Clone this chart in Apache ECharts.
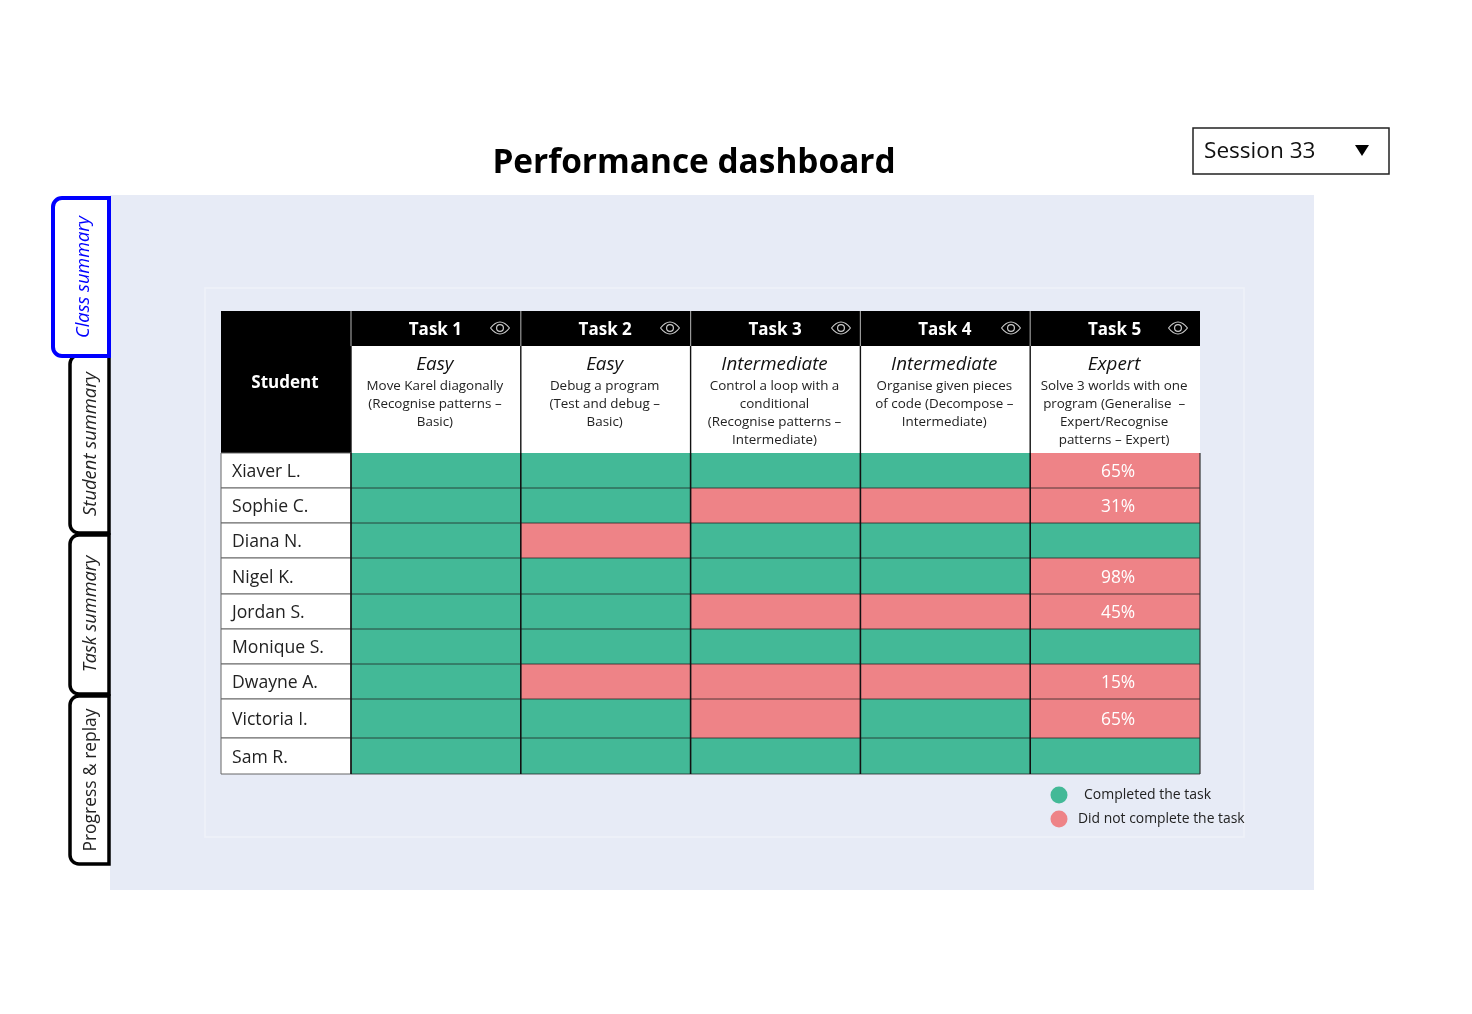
<!DOCTYPE html>
<html>
<head>
<meta charset="utf-8">
<title>Performance dashboard</title>
<script src="https://cdn.jsdelivr.net/npm/echarts@6/dist/echarts.min.js"></script>
<style>
html, body { margin: 0; padding: 0; background: #fff; }
#chart { width: 1472px; height: 1014px; }
</style>
</head>
<body>
<div id="chart"></div>
<script>
// data
var students = ['Xiaver L.', 'Sophie C.', 'Diana N.', 'Nigel K.', 'Jordan S.', 'Monique S.', 'Dwayne A.', 'Victoria I.', 'Sam R.'];
var tasks = ['Task 1', 'Task 2', 'Task 3', 'Task 4', 'Task 5'];
var levels = ['Easy', 'Easy', 'Intermediate', 'Intermediate', 'Expert'];
var notes = [
	['Move Karel diagonally', '(Recognise patterns –', 'Basic)'],
	['Debug a program', '(Test and debug –', 'Basic)'],
	['Control a loop with a', 'conditional', '(Recognise patterns –', 'Intermediate)'],
	['Organise given pieces', 'of code (Decompose –', 'Intermediate)'],
	['Solve 3 worlds with one', 'program (Generalise  –', 'Expert/Recognise', 'patterns – Expert)']
];
// 1 = completed, 0 = did not complete, one row per student
var task1Done = [1, 1, 1, 1, 1, 1, 1, 1, 1];
var task2Done = [1, 1, 0, 1, 1, 1, 0, 1, 1];
var task3Done = [1, 0, 1, 1, 0, 1, 0, 0, 1];
var task4Done = [1, 0, 1, 1, 0, 1, 0, 1, 1];
var task5Done = [0, 0, 1, 0, 0, 1, 0, 0, 1];
var task5Score = ['65%', '31%', '', '98%', '45%', '', '15%', '65%', ''];
var tabs = ['Class summary', 'Student summary', 'Task summary', 'Progress & replay'];
var legendNames = ['Completed the task', 'Did not complete the task'];

// row heights differ in the picture (Victoria is taller)
var rowHeights = [35, 35, 35, 36, 35, 35, 35, 39, 36];
var rowTops = [];
var total = 0;
for (let i = 0; i < rowHeights.length; i++) {
	rowTops.push(total);
	total += rowHeights[i];
}

var GREEN = '#43b997';
var PINK = '#ee8387';
var FONT = '"Open Sans", sans-serif';

var doneByTask = [task1Done, task2Done, task3Done, task4Done, task5Done];
var cellData = [];
for (let t = 0; t < tasks.length; t++) {
	for (let s = 0; s < students.length; s++) {
		cellData.push([t, s, doneByTask[t][s], t == 4 ? task5Score[s] : '']);
	}
}
var nameData = students.map(function(name, i) {
	return [0, i, name];
});

function renderCell(params, api) {
	var t = api.value(0);
	var s = api.value(1);
	var p1 = api.coord([t, rowTops[s]]);
	var p2 = api.coord([t, rowTops[s] + rowHeights[s]]);
	var w = api.size([1, 0])[0];
	var x = p1[0] - w / 2;
	var children = [{
		type: 'rect',
		shape: { x: x, y: p1[1], width: w, height: p2[1] - p1[1] },
		style: { fill: api.value(2) == 1 ? GREEN : PINK }
	}, {
		type: 'line',
		z2: 5,
		shape: { x1: x, y1: p2[1], x2: x + w, y2: p2[1] },
		style: { stroke: 'rgba(30,30,30,0.75)', lineWidth: 1 }
	}, {
		type: 'line',
		z2: 6,
		shape: { x1: x, y1: p1[1], x2: x, y2: p2[1] },
		style: { stroke: '#111', lineWidth: 1.6 }
	}];
	if (t == tasks.length - 1) {
		children.push({
			type: 'line',
			z2: 6,
			shape: { x1: x + w, y1: p1[1], x2: x + w, y2: p2[1] },
			style: { stroke: '#333', lineWidth: 1.2 }
		});
	}
	var score = api.value(3);
	if (score) {
		children.push({
			type: 'text',
			z2: 7,
			style: {
				x: p1[0] + 3, y: (p1[1] + p2[1]) / 2 + 2,
				text: score, fill: '#fff', fontSize: 17.4, fontFamily: FONT,
				align: 'center', verticalAlign: 'middle'
			}
		});
	}
	return { type: 'group', children: children };
}

function renderName(params, api) {
	var s = api.value(1);
	var p1 = api.coord([0, rowTops[s]]);
	var p2 = api.coord([0, rowTops[s] + rowHeights[s]]);
	var w = api.size([1, 0])[0];
	var x = p1[0] - w / 2;
	return {
		type: 'group',
		children: [{
			type: 'rect',
			shape: { x: x, y: p1[1], width: w, height: p2[1] - p1[1] },
			style: { fill: '#fff', stroke: '#666', lineWidth: 1 }
		}, {
			type: 'text',
			style: {
				x: x + 11, y: (p1[1] + p2[1]) / 2 + 1.5,
				text: students[s], fill: '#222', fontSize: 17.6, fontFamily: FONT,
				align: 'left', verticalAlign: 'middle'
			}
		}]
	};
}

// everything around the table
var graphics = [];
function addRect(x, y, w, h, fill, stroke, lineWidth, r, z) {
	graphics.push({
		type: 'rect', z: z || 1,
		shape: { x: x, y: y, width: w, height: h, r: r || 0 },
		style: { fill: fill, stroke: stroke || null, lineWidth: lineWidth || 0 }
	});
}
function addText(text, x, y, size, opts) {
	opts = opts || {};
	graphics.push({
		type: 'text', z: opts.z || 3, x: x, y: y, rotation: opts.rotation || 0,
		style: {
			text: text, x: 0, y: 0, fill: opts.color || '#222', fontSize: size,
			fontFamily: FONT, fontWeight: opts.weight || 'normal', fontStyle: opts.style || 'normal',
			align: opts.align || 'center', verticalAlign: 'middle'
		}
	});
}

// panel
addRect(110, 195, 1204, 695, '#e7ebf6');
addRect(205, 288, 1039, 549, null, '#eff2f9', 1.5);

// tabs, later ones first so the blue one stays on top
var tabBoxes = [[53, 198, 56, 158], [70, 355, 39, 178], [70, 535, 39, 159], [70, 696, 39, 168]];
var tabCentres = [277, 444, 614, 780];
var tabSizes = [18.2, 18.4, 18.2, 17.4];
for (let i = tabs.length - 1; i >= 0; i--) {
	var b = tabBoxes[i];
	var active = i == 0;
	addRect(b[0], b[1], b[2], b[3], '#fff', active ? '#0000ff' : '#000', active ? 4 : 3.5, [9, 0, 0, 9], active ? 3 : 2);
	addText(tabs[i], active ? 84 : 91, tabCentres[i], tabSizes[i], {
		rotation: Math.PI / 2,
		color: active ? '#0000ff' : '#222',
		style: i < 3 ? 'italic' : 'normal',
		z: 4
	});
}

// title and session picker
addText('Performance dashboard', 694, 163, 33.4, { weight: 'bold', color: '#000' });
addRect(1193, 128, 196, 46, '#fff', '#222', 1.5);
addText('Session 33', 1204, 152, 22.6, { align: 'left', color: '#111' });
graphics.push({
	type: 'polygon', z: 3,
	shape: { points: [[1355, 145], [1369, 145], [1362, 156]] },
	style: { fill: '#000' }
});

// table header
var colEdges = [351, 520.8, 690.6, 860.4, 1030.2, 1200];
addRect(221, 311, 130, 142, '#000');
addText('Student', 285, 383, 17, { weight: 'bold', color: '#fff' });
addRect(351, 311, 849, 35, '#000');
addRect(351, 346, 849, 107, '#fff');
var eyeX = [500, 670, 841, 1011, 1178];
for (let t = 0; t < tasks.length; t++) {
	var cx = (colEdges[t] + colEdges[t + 1]) / 2;
	graphics.push({
		type: 'line', z: 2,
		shape: { x1: colEdges[t], y1: 311, x2: colEdges[t], y2: 346 },
		style: { stroke: '#999', lineWidth: 1.2 }
	});
	graphics.push({
		type: 'line', z: 2,
		shape: { x1: colEdges[t], y1: 346, x2: colEdges[t], y2: 453 },
		style: { stroke: '#111', lineWidth: 1.4 }
	});
	addText(tasks[t], cx - 0.5, 330, 17, { weight: 'bold', color: '#fff' });
	addText(levels[t], cx - 1, 365, 18.8, { style: 'italic', color: '#111' });
	for (let l = 0; l < notes[t].length; l++) {
		addText(notes[t][l], cx - 1, 386 + l * 18, 13.4, { color: '#222' });
	}
	// eye icon: two curves and the pupil
	graphics.push({
		type: 'bezierCurve', z: 3, x: eyeX[t], y: 328,
		shape: { x1: -9.5, y1: 0, x2: 9.5, y2: 0, cpx1: 0, cpy1: -12 },
		style: { fill: null, stroke: '#ccc', lineWidth: 1.2 }
	});
	graphics.push({
		type: 'bezierCurve', z: 3, x: eyeX[t], y: 328,
		shape: { x1: -9.5, y1: 0, x2: 9.5, y2: 0, cpx1: 0, cpy1: 12 },
		style: { fill: null, stroke: '#ccc', lineWidth: 1.2 }
	});
	graphics.push({
		type: 'circle', z: 3,
		shape: { cx: eyeX[t], cy: 328, r: 3.4 },
		style: { fill: null, stroke: '#ccc', lineWidth: 1.2 }
	});
}

// legend
graphics.push({ type: 'circle', z: 3, shape: { cx: 1059, cy: 795, r: 8.5 }, style: { fill: GREEN } });
graphics.push({ type: 'circle', z: 3, shape: { cx: 1059, cy: 819, r: 8.5 }, style: { fill: PINK } });
addText(legendNames[0], 1084, 795, 14, { align: 'left' });
addText(legendNames[1], 1078, 819, 13.9, { align: 'left' });

var myChart = echarts.init(document.getElementById('chart'));
myChart.setOption({
	animation: false,
	backgroundColor: '#fff',
	graphic: { elements: graphics },
	grid: [
		{ left: 351, top: 453, width: 849, height: total },
		{ left: 221, top: 453, width: 130, height: total }
	],
	xAxis: [
		{ type: 'category', gridIndex: 0, data: tasks, show: false },
		{ type: 'category', gridIndex: 1, data: ['Student'], show: false }
	],
	yAxis: [
		{ type: 'value', gridIndex: 0, min: 0, max: total, inverse: true, show: false },
		{ type: 'value', gridIndex: 1, min: 0, max: total, inverse: true, show: false }
	],
	series: [{
		type: 'custom',
		xAxisIndex: 0,
		yAxisIndex: 0,
		data: cellData,
		renderItem: renderCell,
		encode: { x: 0, y: 1 }
	}, {
		type: 'custom',
		xAxisIndex: 1,
		yAxisIndex: 1,
		data: nameData,
		renderItem: renderName,
		encode: { x: 0, y: 1 }
	}]
});
window.addEventListener('resize', function() {
	myChart.resize();
});
</script>
</body>
</html>
